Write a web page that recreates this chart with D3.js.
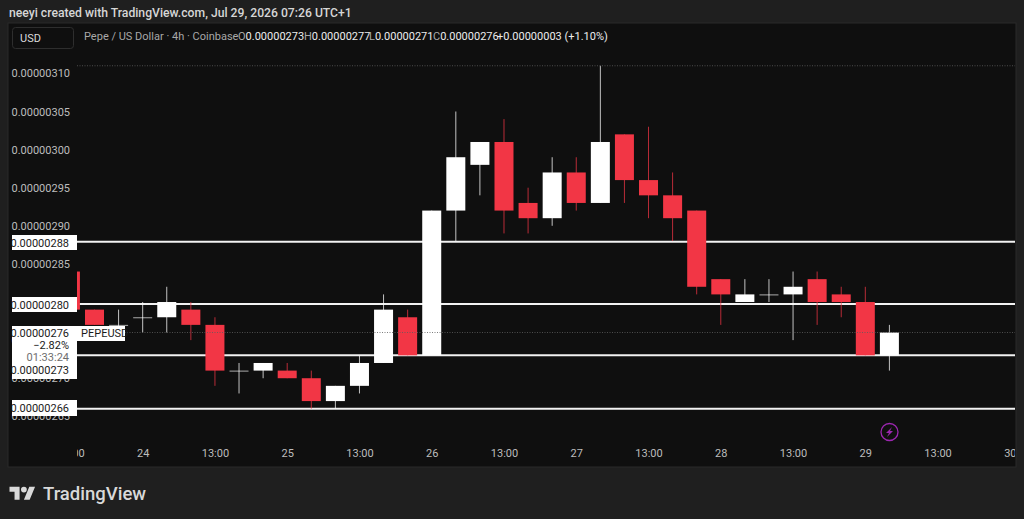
<!DOCTYPE html>
<html>
<head>
<meta charset="utf-8">
<script src="https://cdn.jsdelivr.net/npm/d3@7"></script>
<style>
  html, body { margin: 0; padding: 0; background: #1f1f1f; }
  svg { display: block; }
  text { font-family: Roboto, sans-serif; }
</style>
</head>
<body>
<div id="chart"></div>
<script>
// Prices are in units of 0.00000001 USD, first candle sits partly off the left edge
const barIndex = [-1, 0, 1, 2, 3, 4, 5, 6, 7, 8, 9, 10, 11, 12, 13, 14, 15, 16, 17, 18, 19, 20, 21, 22, 23, 24, 25, 26, 27, 28, 29, 30, 31, 32, 33];
const opens  = [284, 279, 277, 278, 278, 279, 277, 271, 271, 271, 270, 267, 269, 272, 278, 273, 292, 298, 301, 293, 291, 297, 293, 302, 296, 294, 292, 283, 280, 281, 281, 283, 281, 280, 273];
const highs  = [284, 279, 279, 280, 282, 280, 278, 272, 272, 272, 271, 269, 273, 281, 279, 292, 305, 301, 304, 295, 299, 299, 311, 302, 303, 297, 292, 283, 283, 283, 284, 284, 282, 282, 277];
const lows   = [279, 277, 276, 276, 276, 275, 269, 268, 270, 270, 266, 266, 268, 272, 273, 273, 288, 294, 289, 289, 290, 292, 293, 293, 291, 288, 281, 277, 280, 280, 275, 277, 278, 273, 271];
const closes = [279, 277, 277, 278, 280, 277, 271, 271, 272, 270, 267, 269, 272, 279, 273, 292, 299, 301, 292, 291, 297, 293, 301, 296, 294, 291, 282, 281, 281, 281, 282, 280, 280, 273, 276];

// Axis labels
const priceTicks = [265, 270, 275, 280, 285, 290, 295, 300, 305, 310];
const timeTicks = [-1, 2, 5, 8, 11, 14, 17, 20, 23, 26, 29, 32, 35, 38];
const timeLabels = ["13:00", "24", "13:00", "25", "13:00", "26", "13:00", "27", "13:00", "28", "13:00", "29", "13:00", "30"];

// Drawn horizontal levels and their tags
const levelLines = [287.9, 279.75, 273, 266];
const levelTags = [288, 280, 273, 266];
const lastPrice = 276;
const highDotted = 311;

const w = 1024, h = 519;
const panel = { left: 8, top: 23, right: 1016, bottom: 467 };
const plotLeft = 77, plotRight = 1015;
const upColor = "#ffffff", downColor = "#f23645";

const svg = d3.select("#chart").append("svg").attr("width", w).attr("height", h);

// Scales
const x = d3.scaleLinear().domain([0, 33]).range([94.5, 889.4]);
const y = d3.scaleLinear().domain([276, 310]).range([332.5, 73.4]);

// Background panel
svg.append("rect").attr("width", w).attr("height", h).attr("fill", "#1f1f1f");
svg.append("rect")
  .attr("x", panel.left).attr("y", panel.top)
  .attr("width", panel.right - panel.left).attr("height", panel.bottom - panel.top)
  .attr("fill", "#0f0f0f").attr("stroke", "#2a2a2a");

svg.append("clipPath").attr("id", "plot").append("rect")
  .attr("x", plotLeft).attr("y", panel.top).attr("width", plotRight - plotLeft).attr("height", panel.bottom - panel.top);

// Header
svg.append("text").attr("x", 9).attr("y", 17).attr("fill", "#d6d6d6")
  .attr("font-size", 12.2).attr("font-weight", 500)
  .text("neeyi created with TradingView.com, Jul 29, 2026 07:26 UTC+1");

svg.append("rect").attr("x", 12.5).attr("y", 27.5).attr("width", 61).attr("height", 21).attr("rx", 3)
  .attr("fill", "none").attr("stroke", "#2e2e2e");
svg.append("text").attr("x", 20).attr("y", 42).attr("fill", "#dbdbdb").attr("font-size", 11).text("USD");

const legend = svg.append("text").attr("x", 84).attr("y", 40).attr("font-size", 11).attr("fill", "#a8a8a8");
legend.append("tspan").text("Pepe / US Dollar · 4h · Coinbase");
[["O", "0.00000273"], ["H", "0.00000277"], ["L", "0.00000271"], ["C", "0.00000276"]].forEach((d, i) => {
  legend.append("tspan").attr("x", [238, 304, 369, 433][i]).text(d[0]);
  legend.append("tspan").attr("fill", "#ececec").text(d[1]);
});
legend.append("tspan").attr("x", 497).attr("fill", "#ececec").text("+0.00000003 (+1.10%)");

// Price axis, sits under the tags
const priceAxis = svg.append("g").attr("transform", "translate(70,0)")
  .call(d3.axisLeft(y).tickValues(priceTicks).tickSize(0).tickPadding(0).tickFormat(d => "0.00000" + d));
priceAxis.select(".domain").remove();
priceAxis.selectAll("text").attr("fill", "#bdbdbd").attr("font-size", 11).style("font-family", "Roboto, sans-serif");

// Time axis, labels at both ends get cut by the plot edges
const timeAxis = svg.append("g").attr("clip-path", "url(#plot)").append("g").attr("transform", "translate(0,449)")
  .call(d3.axisBottom(x).tickValues(timeTicks).tickSize(0).tickPadding(0).tickFormat((d, i) => timeLabels[i]));
timeAxis.select(".domain").remove();
timeAxis.selectAll("text").attr("fill", "#bdbdbd").attr("font-size", 11).style("font-family", "Roboto, sans-serif");

const plot = svg.append("g").attr("clip-path", "url(#plot)");

// Levels go behind the candles
plot.selectAll("line.level").data(levelLines).enter().append("line").attr("class", "level")
  .attr("x1", plotLeft).attr("x2", plotRight)
  .attr("y1", d => y(d)).attr("y2", d => y(d))
  .attr("stroke", "#f2f2f2").attr("stroke-width", 2);

// Candles
const bodyW = 19;
const candles = plot.selectAll("g.candle").data(barIndex).enter().append("g").attr("class", "candle");
const candleColor = (d, i) => closes[i] >= opens[i] ? upColor : downColor;

candles.append("line")
  .attr("x1", d => x(d)).attr("x2", d => x(d))
  .attr("y1", (d, i) => y(highs[i])).attr("y2", (d, i) => y(lows[i]))
  .attr("stroke", candleColor).attr("stroke-width", 1).attr("stroke-opacity", 0.75);

candles.append("rect")
  .attr("x", d => x(d) - bodyW / 2).attr("width", bodyW)
  .attr("y", (d, i) => y(Math.max(opens[i], closes[i])))
  .attr("height", (d, i) => Math.max(1, Math.abs(y(opens[i]) - y(closes[i]))))
  .attr("fill", candleColor)
  .attr("fill-opacity", (d, i) => opens[i] == closes[i] ? 0.65 : 1);

// Dotted lines for last price and top of range
plot.selectAll("line.dots").data([lastPrice, highDotted]).enter().append("line").attr("class", "dots")
  .attr("x1", plotLeft).attr("x2", plotRight)
  .attr("y1", d => y(d)).attr("y2", d => y(d))
  .attr("stroke", "#5c5c5c").attr("stroke-width", 1).attr("stroke-dasharray", "1 1.5").attr("stroke-opacity", 0.8);

// Tags on the price axis
function tag(x0, y0, tw, th) {
  svg.append("rect").attr("x", x0).attr("y", y0).attr("width", tw).attr("height", th).attr("fill", "#ffffff");
}
function tagText(tx, ty, str, color) {
  svg.append("text").attr("x", tx).attr("y", ty).attr("text-anchor", "end")
    .attr("fill", color || "#1a1a1a").attr("font-size", 11).text(str);
}
const tagBoxes = [[235, 15], [297, 15], [362, 17], [400, 16]];
tag(12, 326, 65, 37);
levelTags.forEach((d, i) => {
  tag(12, tagBoxes[i][0], 65, tagBoxes[i][1]);
  tagText(69, tagBoxes[i][0] + 11.5, "0.00000" + d);
});
tagText(69, 337, "0.00000" + lastPrice);
tagText(69, 349, "−2.82%");
tagText(69, 361, "01:33:24", "#6e6e6e");

// Symbol tag
svg.append("rect").attr("x", 77).attr("y", 326).attr("width", 48).attr("height", 15).attr("fill", "#ffffff");
svg.append("text").attr("x", 81).attr("y", 337).attr("fill", "#1a1a1a").attr("font-size", 11).text("PEPEUSD");

// Lightning marker
const bolt = svg.append("g").attr("transform", "translate(889.5,432)");
bolt.append("circle").attr("r", 8.5).attr("fill", "none").attr("stroke", "#9c27b0").attr("stroke-width", 1.3);
bolt.append("path").attr("d", "M2.5,-5 L-3.5,1 L-0.5,1 L-2.5,5 L3.5,-1 L0.5,-1 Z").attr("fill", "#9c27b0");

// TradingView logo
const logo = svg.append("g").attr("transform", "translate(9.5,486) scale(0.72)").attr("fill", "#d9d9d9");
logo.append("path").attr("d", "M14 19H7V8H0V1h14v18zM28 19h-8l7.5-18h8L28 19z");
logo.append("circle").attr("cx", 20).attr("cy", 5).attr("r", 4);
svg.append("text").attr("x", 43).attr("y", 500).attr("fill", "#d9d9d9")
  .attr("font-size", 18.5).attr("font-weight", 500).text("TradingView");
</script>
</body>
</html>
